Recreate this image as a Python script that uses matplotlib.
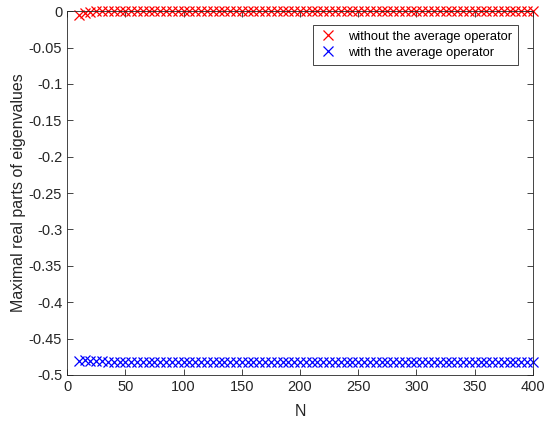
import numpy as np
import matplotlib
matplotlib.use('Agg')
import matplotlib.pyplot as plt

plt.rcParams['font.family'] = ['Liberation Sans', 'DejaVu Sans']

# --- Data ---
N = np.arange(10, 401, 5)
red_vals = [-0.0055, -0.0030, -0.0015, -0.0005] + [0.0] * (len(N) - 4)
blue_vals = [-0.4805, -0.4800, -0.4805, -0.4812, -0.4815] + [-0.4820] * (len(N) - 5)

x_ticks = [0, 50, 100, 150, 200, 250, 300, 350, 400]
y_ticks = [0, -0.05, -0.1, -0.15, -0.2, -0.25, -0.3, -0.35, -0.4, -0.45, -0.5]
y_labels = ['0', '-0.05', '-0.1', '-0.15', '-0.2', '-0.25', '-0.3', '-0.35', '-0.4', '-0.45', '-0.5']

AX_COLOR = '#262626'

fig = plt.figure(figsize=(5.5, 4.28), dpi=100)
ax = fig.add_axes([0.122, 0.124, 0.847, 0.850])

ax.plot(N, red_vals, 'x', color='#ff0000', markersize=7.5, markeredgewidth=0.9,
        label='without the average operator', clip_on=False)
ax.plot(N, blue_vals, 'x', color='#0000ff', markersize=7.5, markeredgewidth=0.9,
        label='with the average operator', clip_on=False)

ax.set_xlim(0, 400)
ax.set_ylim(-0.5, 0)
ax.set_xticks(x_ticks)
ax.set_yticks(y_ticks)
ax.set_yticklabels(y_labels)
ax.tick_params(direction='in', length=4, width=0.6, labelsize=10.5,
               colors=AX_COLOR, top=True, right=True,
               labeltop=False, labelright=False)
for sp in ax.spines.values():
    sp.set_linewidth(0.6)
    sp.set_color(AX_COLOR)

ax.set_xlabel('N', fontsize=11.5, color=AX_COLOR, labelpad=7)
ax.set_ylabel('Maximal real parts of eigenvalues', fontsize=11.5,
              color=AX_COLOR, labelpad=2)

leg = ax.legend(loc='upper right', bbox_to_anchor=(0.968, 0.9615), fontsize=9.3,
                frameon=True, fancybox=False, edgecolor=AX_COLOR, framealpha=1,
                handlelength=1.5, borderpad=0.45, labelspacing=0.3,
                borderaxespad=0)
leg.get_frame().set_linewidth(0.6)

fig.savefig('out.png', dpi=100)
